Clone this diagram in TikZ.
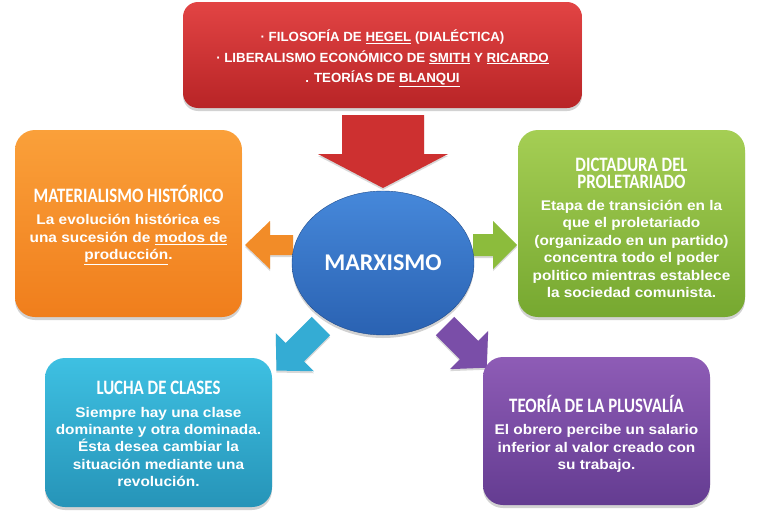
\documentclass[tikz,border=0pt]{standalone}
\usepackage{fontspec}
\setmainfont{Liberation Sans}
\newfontfamily\bodyfont[FakeStretch=1.1]{Liberation Sans}
\newfontfamily\ttlfont[FakeStretch=0.82]{Carlito}
\newfontfamily\hubfont{Carlito}
\usetikzlibrary{shadows,shapes.geometric}
\definecolor{redT}{RGB}{226,68,68}
\definecolor{redB}{RGB}{184,36,38}
\definecolor{oT}{RGB}{250,160,58}
\definecolor{oB}{RGB}{240,126,28}
\definecolor{gT}{RGB}{165,206,84}
\definecolor{gB}{RGB}{118,168,48}
\definecolor{bT}{RGB}{62,192,226}
\definecolor{bB}{RGB}{38,148,184}
\definecolor{pT}{RGB}{142,92,182}
\definecolor{pB}{RGB}{100,60,145}
\definecolor{eT}{RGB}{70,136,218}
\definecolor{eB}{RGB}{42,98,178}
\definecolor{aR}{RGB}{205,48,48}
\definecolor{aO}{RGB}{242,140,40}
\definecolor{aG}{RGB}{140,188,60}
\definecolor{aB}{RGB}{52,172,212}
\definecolor{aP}{RGB}{122,78,168}
\newcommand\ttl{\ttlfont\bfseries\fontsize{20.5}{17}\selectfont}
\tikzset{
  x=1pt, y=-1pt,
  panel/.style={rounded corners=20pt, inner sep=0pt,
    drop shadow={shadow xshift=0pt, shadow yshift=-3pt, opacity=0.35}},
  words/.style={text=white, align=center, inner sep=0pt,
    font=\bodyfont\bfseries\fontsize{14}{17.4}\selectfont},
  blk/.style={drop shadow={shadow xshift=0pt, shadow yshift=-2pt, opacity=0.3}},
}
\begin{document}
\begin{tikzpicture}
\useasboundingbox[fill=white] (0,0) rectangle (757,514);

% side arrows (behind hub)
\path[blk, fill=aO, shift={(293,245)}, rotate=180]
  (0,-10) -- (23,-10) -- (23,-24) -- (48,0) -- (23,24) -- (23,10) -- (0,10) -- cycle;
\path[blk, fill=aG, shift={(473,245)}, rotate=0]
  (0,-11) -- (20,-11) -- (20,-24) -- (44,0) -- (20,24) -- (20,11) -- (0,11) -- cycle;
\path[blk, fill=aB, shift={(321,326)}, rotate=-135]
  (0,-13) -- (37,-13) -- (37,-27) -- (63,0) -- (37,27) -- (37,13) -- (0,13) -- cycle;
\path[blk, fill=aP, shift={(445,326)}, rotate=-45]
  (0,-13) -- (34,-13) -- (34,-27) -- (59,0) -- (34,27) -- (34,13) -- (0,13) -- cycle;

% hub
\node[ellipse, minimum width=182pt, minimum height=144pt, inner sep=0pt,
  top color=eT, bottom color=eB, draw=eB!80!black, line width=0.4pt,
  drop shadow={shadow xshift=0pt, shadow yshift=-3pt, opacity=0.35},
  text=white, font=\hubfont\bfseries\fontsize{24}{24}\selectfont]
  (hub) at (383,263) {MARXISMO};

% top arrow
\path[blk, fill=aR, shift={(383,115)}, rotate=-90]
  (0,-41) -- (39,-41) -- (39,-65) -- (73,0) -- (39,65) -- (39,41) -- (0,41) -- cycle;

% top box
\node[panel, rounded corners=15pt, minimum width=399pt, minimum height=106pt,
  top color=redT, bottom color=redB] (src) at (382.5,55) {};
\node[words, font=\bfseries\fontsize{13.3}{20.5}\selectfont]
  (srct) at (382.5,58.5)
  {· FILOSOFÍA DE \underline{HEGEL} (DIALÉCTICA)\\
   · LIBERALISMO ECONÓMICO DE \underline{SMITH} Y \underline{RICARDO}\\
   . TEORÍAS DE \underline{BLANQUI}};

% orange box
\node[panel, minimum width=227pt, minimum height=187pt, top color=oT, bottom color=oB]
  (mat) at (128.5,223.5) {};
\node[words] (matt) at (128.5,225)
  {{\ttl MATERIALISMO HISTÓRICO}\\[5pt]
   La evolución histórica es\\
   una sucesión de \underline{modos de}\\
   \underline{producción}.};

% green box
\node[panel, minimum width=227pt, minimum height=187pt, top color=gT, bottom color=gB]
  (dic) at (631.5,223.5) {};
\node[words] (dict) at (631.5,228)
  {{\ttl DICTADURA DEL}\\[-1pt]
   {\ttl PROLETARIADO}\\[5pt]
   Etapa de transición en la\\
   que el proletariado\\
   (organizado en un partido)\\
   concentra todo el poder\\
   politico mientras establece\\
   la sociedad comunista.};

% blue box
\node[panel, minimum width=227pt, minimum height=149pt, top color=bT, bottom color=bB]
  (luc) at (158.5,432.5) {};
\node[words] (luct) at (158.5,434)
  {{\ttl LUCHA DE CLASES}\\[5pt]
   Siempre hay una clase\\
   dominante y otra dominada.\\
   Ésta desea cambiar la\\
   situación mediante una\\
   revolución.};

% purple box
\node[panel, minimum width=227pt, minimum height=148pt, top color=pT, bottom color=pB]
  (plu) at (596.5,431) {};
\node[words] (plut) at (596.5,434)
  {{\ttl TEORÍA DE LA PLUSVALÍA}\\[5pt]
   El obrero percibe un salario\\
   inferior al valor creado con\\
   su trabajo.};
\end{tikzpicture}
\end{document}
